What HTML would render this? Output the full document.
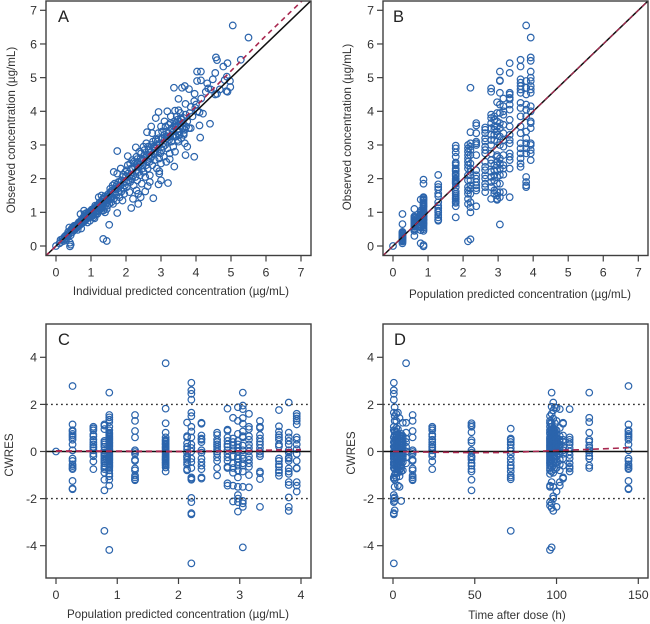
<!DOCTYPE html>
<html lang="en">
<head>
<meta charset="utf-8">
<title>Goodness-of-fit plots</title>
<style>
html,body{margin:0;padding:0;background:#fff;}
body{width:650px;height:624px;overflow:hidden;}
svg{display:block;filter:blur(0.3px);}
text{font-family:"Liberation Sans",Arial,sans-serif;fill:#333;}
.tick-label{font-size:12.4px;}
.axis-title{font-size:11.6px;}
.panel-letter{font-size:16.5px;fill:#222;}
</style>
</head>
<body>
<svg id="figure" width="650" height="624" viewBox="0 0 650 624" xmlns="http://www.w3.org/2000/svg"></svg>
<script>
// ---------- tick labels ----------
const concentrationTicks = [0, 1, 2, 3, 4, 5, 6, 7];
const predictionTicks = [0, 1, 2, 3, 4];
const cwresTicks = [-4, -2, 0, 2, 4];
const timeTicks = [0, 50, 100, 150];
const cwresLimits = [-2, 2];

// ---------- panel A: individual prediction vs observation pairs ----------
const panelAPairs = [
[5.05,6.55],[5.5,6.19],[4.57,5.6],[4.6,5.52],[4.9,5.43],[4.78,5.33],[5.28,5.53],[4.55,5.14],[4.03,5.18],[4.14,5.18],
[4.03,4.9],[4.14,4.92],[4.48,4.95],[4.88,5.03],[4.97,4.9],[4.82,4.93],[3.37,4.7],[3.6,4.7],[3.68,4.75],[3.8,4.66],
[3.96,4.52],[4.32,4.83],[4.35,4.68],[4.28,4.58],[4.42,4.65],[4.6,4.52],[4.55,4.5],[4.68,4.65],[4.87,4.6],[4.9,4.58],
[4.98,4.72],[3.5,4.37],[3.7,4.22],[4.0,4.2],[4.15,4.38],[3.85,4.13],[3.98,4.1],[4.04,4.0],[4.2,3.93],[4.1,3.97],
[4.4,3.63],[4.1,3.58],[4.12,3.22],[3.95,2.65],[3.7,2.7],[3.75,2.95],[3.68,3.05],[3.85,3.5],[3.65,3.3],[3.5,3.1],
[3.4,2.8],[3.25,2.58],[3.38,2.36],[3.2,1.87],[3.0,1.95],[2.93,1.83],[2.95,2.15],[2.95,2.22],[2.68,1.9],[2.78,1.42],
[2.55,1.62],[2.62,1.78],[2.15,1.13],[2.35,1.25],[1.75,0.98],[1.52,0.63],[1.35,0.21],[1.45,0.15],[1.75,2.82],[2.05,2.67],
[2.72,3.55],[2.6,3.38],[2.75,3.35],[2.85,3.8],[2.93,3.98],[3.18,4.0],[3.4,4.02],[3.5,4.03],[2.28,2.93],
[0,0],[0.1,0.08],[0.13,0.18],[0.18,0.2],[0.22,0.15],[0.25,0.28],[0.3,0.22],[0.33,0.3],[0.35,0.42],[0.38,0.55],
[0.42,0.04],[0.4,-0.01],[0.4,0.1],[0.42,0.32],[0.45,0.4],[0.48,0.56],[0.5,0.45],[0.52,0.6],[0.55,0.5],[0.58,0.62],
[0.6,0.55],[0.62,0.48],[0.65,0.7],[0.68,0.62],[0.7,0.95],[0.72,0.75],[0.72,0.52],[0.75,0.68],[0.78,0.85],[0.8,1.05],
[0.8,0.72],[0.82,0.95],[0.85,0.78],[0.88,0.9],[0.9,0.7],[0.92,1.0],[0.95,0.85],[0.97,0.75],[1.0,0.95],[1.02,1.08],
[1.05,0.9],[1.08,1.0],[1.1,0.82],[1.12,1.2],[1.15,1.05],[1.18,0.95],[1.2,1.15],[1.22,1.45],[1.25,1.3],[1.28,1.1],
[1.3,1.5],[1.32,1.2],[1.35,1.05],[1.35,1.42],[1.38,1.3],[1.4,1.0],[1.42,1.25],[1.45,1.1],[1.48,1.4],[1.5,1.55],
[1.52,1.25],[1.55,1.7],[1.55,1.45],[1.58,1.3],[1.6,1.65],[1.62,1.8],[1.65,1.4],[1.65,2.2],[1.68,1.55],[1.7,1.75],
[1.72,1.5],[1.75,2.15],[1.75,1.7],[1.78,1.9],[1.8,1.6],[1.82,1.45],[1.85,1.8],[1.85,2.3],[1.9,1.35],[1.9,2.05],
[1.92,1.7],[1.95,1.55],[1.98,2.2],[2.0,1.9],[2.02,1.75],[2.05,2.4],[2.08,2.05],[2.1,1.6],[2.12,1.9],[2.15,2.3],
[2.18,2.55],[2.2,1.4],[2.2,2.1],[2.22,1.8],[2.25,2.45],[2.28,2.2],[2.3,1.65],[2.3,2.65],[2.32,1.95],[2.35,1.55],
[2.35,2.35],[2.38,2.8],[2.4,2.1],[2.42,1.45],[2.42,2.6],[2.45,1.85],[2.48,2.4],[2.5,2.95],[2.5,2.2],[2.52,2.7],
[2.55,2.05],[2.58,3.05],[2.6,2.5],[2.62,2.3],[2.65,2.85],[2.68,2.1],[2.7,2.6],[2.72,3.0],[2.75,2.4],[2.78,2.75],
[2.8,2.9],[2.82,2.55],[2.85,3.15],[2.88,2.3],[2.9,2.8],[2.92,3.35],[2.95,2.6],[2.97,3.05],[3.0,2.45],[3.0,3.55],
[3.02,2.85],[3.05,3.2],[3.08,2.65],[3.1,3.7],[3.12,3.0],[3.15,2.5],[3.15,3.4],[3.18,2.9],[3.2,3.25],[3.22,3.6],
[3.25,2.75],[3.28,3.85],[3.3,3.1],[3.32,3.45],[3.35,2.95],[3.38,3.7],[3.4,3.3],[3.42,3.55],[3.45,3.85],[3.48,3.15],
[3.5,3.6],[3.52,3.4],[3.55,3.95],[3.58,3.2],[3.6,3.75],[3.62,3.5],[3.65,3.35],[3.7,3.9],[3.72,3.55],[3.75,3.7],
[3.8,3.5],[3.82,3.95],[3.9,3.85],[3.95,4.3],
[0.2,0.22],[0.28,0.3],[0.36,0.33],[0.44,0.5],[0.5,0.55],[0.56,0.58],[0.63,0.6],[0.66,0.6],[0.7,0.72],[0.74,0.8],
[0.76,0.72],[0.8,0.82],[0.83,0.75],[0.86,0.88],[0.88,0.82],[0.9,0.95],[0.93,0.88],[0.96,0.98],[0.98,0.9],[1.0,1.05],
[1.03,0.98],[1.06,1.1],[1.08,0.92],[1.1,1.08],[1.13,1.02],[1.16,1.15],[1.19,1.08],[1.22,1.22],[1.26,1.18],[1.3,1.32],
[1.34,1.3],[1.38,1.4],[1.44,1.38],[1.5,1.48],[1.56,1.58],[1.62,1.55],[1.68,1.7],[1.74,1.82],[1.8,1.78],[1.88,1.95],
[1.94,1.9],[2.0,2.08],[2.06,2.15],[2.14,2.12],[2.2,2.3],[2.26,2.34],[2.34,2.5],[2.4,2.42],[2.46,2.55],[2.54,2.62],
[2.6,2.72],[2.66,2.7],[2.72,2.8],[2.78,2.95],[2.84,2.92],[2.9,3.1],[2.96,3.0],[3.02,3.18],[3.06,3.05],[3.1,3.3],
[3.16,3.2],[3.22,3.35],[3.26,3.25],[3.3,3.5],[3.36,3.4],[3.42,3.65],[3.46,3.45],[3.52,3.7],[3.56,3.55],[3.65,3.8],
[0.15,0.12],[0.24,0.2],[0.3,0.33],[0.37,0.38],[0.46,0.46],[0.53,0.52],[0.6,0.62],[0.64,0.66],[0.68,0.72],[0.72,0.68],
[0.76,0.8],[0.8,0.78],[0.84,0.85],[0.87,0.98],[0.9,0.82],[0.94,0.92],[0.97,1.02],[1.0,0.87],[1.04,1.02],[1.07,0.85],
[1.1,1.13],[1.14,0.95],[1.17,1.2],[1.2,1.03],[1.24,1.12],[1.27,1.25],[1.3,1.05],[1.33,1.38],[1.37,1.15],[1.4,1.48],
[1.43,1.33],[1.47,1.2],[1.5,1.35],[1.53,1.5],[1.57,1.62],[1.6,1.45],[1.63,1.25],[1.67,1.85],[1.7,1.62],[1.73,1.35],
[1.78,1.72],[1.83,1.92],[1.87,1.62],[1.92,2.12],[1.97,1.8],[2.02,2.25],[2.07,1.95],[2.12,2.45],[2.17,2.0],[2.22,2.5],
[2.27,2.05],[2.32,2.58],[2.37,2.2],[2.43,2.75],[2.47,2.3],[2.53,2.85],[2.57,2.4],[2.63,2.95],[2.67,2.5],[2.73,2.65],
[2.77,3.1],[2.83,2.75],[2.87,3.0],[2.93,3.2],[2.98,2.75],[3.03,3.4],[3.07,2.95],[3.13,3.55],[3.17,3.1],[3.23,3.15],
[3.27,3.65],[3.33,3.25],[3.37,3.55],[3.43,3.25],[3.47,3.75],[3.53,3.3],[3.57,3.8],[3.63,3.65],[3.68,3.45]
];

// ---------- panels B, C: population prediction columns ----------
const populationPredictions = [0,0.27,0.61,0.79,0.87,1.29,1.79,2.14,2.21,2.375,2.63,2.8,2.89,2.97,3.05,3.15,3.33,3.64,3.8,3.93];
const panelBObserved = [
[0],
[0.95,0.65,0.42,0.38,0.33,0.3,0.27,0.23,0.2,0.17,0.13,0.08,0.4,0.36,0.25,0.15],
[1.1,0.88,0.82,0.78,0.73,0.68,0.62,0.57,0.52,0.45,0.3,0.85,0.75,0.7,0.65,0.6,0.5],
[1.38,0.95,0.9,0.85,0.8,0.75,0.7,0.62,0.55,0.47,0.08,1.05,1.0,0.92,0.82,0.72,0.65,0.58],
[1.97,1.85,1.45,1.42,1.38,1.3,1.22,1.15,1.1,1.05,1,0.95,0.9,0.85,0.8,0.75,0.7,0.65,0.6,0.55,0.45,0.03,-0.01,1.35,1.26,1.18,1.02,0.88,0.78,0.68,0.5],
[2.11,1.83,1.75,1.68,1.55,1.48,1.3,1.2,1.12,1.05,1,0.92,0.85,0.78,0.75],
[2.98,2.9,2.78,2.65,2.48,2.45,2.3,2.22,2.15,2.08,2,1.92,1.85,1.75,1.62,1.55,1.45,1.38,1.28,1.18,0.85,2.4,2.26,2.12,1.96,1.88,1.5,1.42,1.32],
[3.0,2.9,2.7,2.6,2.4,2.3,2.1,1.75,1.65,1.55,1.4,1.25,0.14,2.8,2.5,1.95],
[4.7,3.38,3.05,2.95,2.85,2.7,2.45,2.3,2.2,2.1,1.95,1.8,1.7,1.55,1.3,1.15,1.0,0.2],
[3.65,3.58,3.35,3.1,3.05,3.0,2.7,2.25,2.1,2,1.9,1.8,1.72,1.65,1.18],
[3.52,3.45,3.35,3.2,3.1,2.95,2.85,2.75,2.5,2.35,2.25,2.1,2,1.85,1.75,1.6],
[4.68,4.58,3.9,3.8,3.65,3.5,3.3,3.15,3.0,2.75,2.55,2.45,2.2,2.05,1.9,1.75,1.4],
[3.85,3.75,3.55,3.45,3.3,3.15,2.4,2.25,2.1,1.95,1.65,1.55],
[4.27,3.95,3.7,3.55,3.4,3.3,3.1,2.7,2.65,2.5,2.4,2.25,2.05,1.85,1.6,1.5,1.4,1.37],
[5.18,4.9,4.92,4.55,4.2,3.95,3.65,3.5,3.25,3.0,2.6,2.45,2.3,2.1,1.85,1.6,1.45,0.64],
[4.38,4.15,4.0,3.9,3.6,3.35,3.15,2.95,2.7,2.4,2.3,2.12,1.6],
[5.43,5.14,4.55,4.5,4.4,4.35,4.2,4.05,3.75,3.55,3.3,3.15,3.05,2.75,2.65,2.55,2.3,1.45],
[5.53,5.33,4.95,4.85,4.75,4.65,4.55,4.25,4.1,3.85,3.55,3.35,3.05,2.9,2.75,2.6,2.45,2.35],
[6.55,4.9,4.7,4.5,4.2,4.05,3.85,3.4,3.2,3.05,2.9,2.75,2.05,1.9,1.8,1.75],
[6.19,5.6,5.5,5.18,5.0,4.9,4.75,4.65,4.55,4.15,4,3.7,3.65,3.5,3.05,3.0,2.85,2.75,2.55]
];
const panelCCwres = [
[0],
[2.78,1.15,0.9,0.85,0.75,0.68,0.6,0.5,0.3,0.05,-0.3,-0.4,-0.55,-0.62,-0.7,-0.75,-1.25,-1.57,-1.6],
[1.05,0.98,0.9,0.72,0.65,0.5,0.4,0.3,0.2,0.15,0.05,-0.1,-0.2,-0.42,-0.75],
[1.15,1.1,0.95,0.45,0.38,0.3,0.05,-0.05,-0.2,-0.35,-0.5,-0.6,-0.75,-0.9,-1.2,-1.65,-3.37,0.2,-0.12,-0.28,-0.42,-0.68],
[2.5,1.55,1.45,1.35,1.25,1.05,0.9,0.8,0.7,0.6,0.5,0.4,0.3,0.2,0.1,0,-0.1,-0.2,-0.3,-0.4,-0.5,-0.6,-0.7,-0.8,-0.95,-1.05,-1.2,-1.45,-4.18,0.75,0.65,0.55,0.45,0.35,0.25,0.15,0.05,-0.05,-0.15,-0.25,-0.35,-0.45,-0.55,-0.65],
[1.55,1.3,0.87,0.6,0.05,-0.02,-0.1,-0.35,-0.4,-0.72,-0.8,-1.02,-1.1,-1.18,-1.22],
[3.75,1.82,1.2,0.8,0.6,0.5,0.42,0.35,0.28,0.2,0.12,0.05,-0.05,-0.12,-0.2,-0.3,-0.4,-0.5,-0.6,-0.68,-0.85,0.46,0.32,0.16,0,-0.25,-0.35,-0.45,-0.55],
[1.23,0.65,0.6,0.35,0.2,0.1,-0.05,-0.2,-0.25,-0.35,-0.45,-0.55,-0.75,-0.8],
[2.92,2.6,2.45,2.2,1.65,1.5,1.05,0.85,0.6,0.3,0.15,0,-0.3,-0.45,-0.7,-1.1,-1.15,-1.2,-1.97,-2.15,-2.62,-2.67,-4.75],
[1.22,1.18,0.68,0.55,0.5,0.4,0.05,-0.05,-0.3,-0.45,-0.6,-0.75,-1.1,-1.15],
[0.8,0.7,0.5,0.4,0.3,0.2,0.1,0,-0.1,-0.25,-0.4,-0.7,-1.02],
[1.82,0.93,0.88,0.6,0.45,0.3,0.2,0.05,-0.1,-0.25,-0.4,-0.65,-0.7,-1.35,-1.45],
[1.43,0.55,0.4,0.25,0.05,-0.2,-0.5,-0.7,-0.9,-1.45,-2.12],
[1.88,1.3,0.75,0.45,0.3,0.15,0,-0.2,-0.3,-0.45,-0.6,-0.8,-1.1,-1.5,-1.85,-2.0,-2.15,-2.55],
[2.5,1.95,1.8,1.42,1.18,0.85,0.65,0.6,0.25,0.05,-0.15,-0.3,-0.5,-0.6,-0.85,-1.5,-2.1,-2.2,-2.35,-4.07],
[1.6,1.05,0.95,0.65,0.5,0.3,0.15,0,-0.2,-0.35,-0.5,-0.65,-1,-1.52],
[1.3,1.05,1.0,0.7,0.55,0.42,0.3,0.15,0,-0.1,-0.2,-0.85,-0.92,-1.17,-2.35],
[1.76,1.07,0.85,0.7,0.6,0.5,0.3,0.22,-0.3,-0.4,-0.55,-0.65,-0.8,-0.9,-1.03],
[2.08,0.8,0.6,0.45,0.3,0.05,-0.05,-0.25,-0.3,-0.4,-0.72,-0.85,-0.95,-1.3,-1.42,-1.95,-2.35,-2.52],
[1.6,1.5,1.4,1.3,1.15,0.6,0.5,0.3,0.1,-0.1,-0.4,-0.7,-0.72,-1.3,-1.45,-1.7]
];

// ---------- panel D: time after dose columns ----------
const timesAfterDose = [0.5,1,2,3,4,5,6,8,12,24,48,72,96,97,98,99,100,102,104,108,120,144];
const panelDCwres = [
[2.92,2.6,2.45,2.2,1.65,1.05,0.6,0.2,-0.1,-0.3,-0.45,-0.7,-1.1,-1.15,-1.85,-2.0,-2.15,-2.62,-2.67,-4.75,0.9,0.4,0,-0.2,-0.55],
[1.88,1.5,1.3,0.85,0.5,0.35,0.1,-0.2,-0.5,-0.75,-1.2,-1.5,-1.95,-2.1,-2.5,0.7,0.2,-0.05,-0.35,-0.6,-1.0],
[1.6,1.3,1.0,0.7,0.5,0.3,0.1,-0.1,-0.35,-0.6,-0.9,-1.1,0.85,0.6,0.4,0.2,0,-0.2,-0.45,-0.75],
[1.65,0.95,0.6,0.4,0.2,0,-0.2,-0.4,-0.6,-0.9,-1.45,0.75,0.5,0.3,0.1,-0.1,-0.3,-0.5,-0.75],
[1.42,0.7,0.5,0.3,0.1,-0.1,-0.3,-0.5,-0.8,-1.05,-1.5,0.6,0.4,0.2,0,-0.2,-0.4,-0.65],
[0.75,0.55,0.35,0.15,-0.1,-0.3,-0.6,-0.85,-2.1,0.65,0.45,0.25,0.05,-0.2,-0.45,-0.7],
[1.22,0.65,0.45,0.25,0.05,-0.2,-0.45,-0.8,0.55,0.35,0.15,-0.1,-0.3],
[3.75,1.22,0.8,0.55,0.4,0.2,0,-0.25,-0.5],
[1.55,1.3,0.87,0.6,0.05,-0.02,-0.1,-0.35,-0.4,-0.72,-0.8,-1.02,-1.1,-1.18,-1.22],
[1.05,0.98,0.9,0.72,0.65,0.5,0.4,0.3,0.2,0.15,0.05,-0.1,-0.2,-0.42,-0.75],
[1.2,1.12,1.05,0.82,0.48,0.38,0.05,-0.05,-0.2,-0.25,-0.35,-0.5,-0.6,-0.75,-0.85,-1.2,-1.65],
[0.97,0.55,0.5,0.4,0.3,0.15,0.02,-0.12,-0.3,-0.45,-0.6,-0.7,-0.85,-1.02,-1.1,-1.18,-3.37],
[1.5,1.3,1.05,0.9,0.75,0.6,0.45,0.3,0.15,0,-0.15,-0.3,-0.45,-0.6,-0.8,-0.95,-1.45,-1.5,-2.15,-2.3,-4.18,1.2,0.82,0.52,0.38,0.22,0.08,-0.08,-0.22,-0.38,-0.52,-0.7],
[2.5,1.9,1.6,1.2,1.05,0.85,0.7,0.55,0.4,0.25,0.1,-0.05,-0.2,-0.35,-0.5,-0.65,-0.85,-1.3,-2.2,-2.4,-4.07,0.95,0.78,0.62,0.48,0.32,0.18],
[2.08,1.75,1.4,1.0,0.8,0.65,0.5,0.35,0.2,0.05,-0.1,-0.25,-0.4,-0.6,-0.9,-1.5,-1.9,-2.0,-2.52,0.9,0.72,0.58,0.42,0.28,0.12,-0.02],
[1.88,1.2,0.95,0.7,0.55,0.4,0.25,0.1,-0.1,-0.3,-0.5,-0.75,0.85,0.62,0.48,0.32,0.18,0],
[1.85,1.3,0.9,0.6,0.45,0.3,0.15,0,-0.2,-0.45,-0.7,-1.7,-2.35,0.75,0.52,0.38,0.22,0.08],
[1.8,1.0,0.65,0.5,0.3,0.1,-0.1,-0.35,-0.55,-0.8,-1.3,-1.45,0.4,0.2,0],
[1.22,1.18,0.68,0.5,0.4,0.2,0.05,-0.1,-0.3,-0.6,-1.1,-1.15],
[1.8,0.6,0.5,0.4,0.3,0.15,0,-0.15,-0.3,-0.5,-0.65,-0.72,-0.85],
[2.5,1.43,1.25,0.8,0.5,0.42,0.25,0.15,0.05,-0.05,-0.2,-0.3,-0.6,-0.7],
[2.78,1.15,0.9,0.85,0.75,0.68,0.6,0.5,0.3,0.05,-0.3,-0.4,-0.55,-0.62,-0.7,-0.75,-1.25,-1.57,-1.6]
];

// ---------- trend (dashed) series ----------
const panelATrendX = [-0.3,0,1,2,3,4,5,6,7.05];
const panelATrendY = [-0.3,0,1.0,2.03,3.08,4.15,5.2,6.25,7.3];
const panelBTrendX = [-0.3,1,2,3,4,5,6,7.3];
const panelBTrendY = [-0.3,1,2,3,4,5,6,7.3];
const panelCTrendX = [0,1,2,3,3.5,4];
const panelCTrendY = [0.02,0.01,0,0.02,0.05,0.07];
const panelDTrendX = [0,25,50,72,96,120,144];
const panelDTrendY = [0,-0.03,-0.05,-0.04,0.03,0.09,0.16];

const SVG_NS = 'http://www.w3.org/2000/svg';
const figure = document.getElementById('figure');

function add(parent, tag, attrs, text) {
  const el = document.createElementNS(SVG_NS, tag);
  for (const k in attrs) el.setAttribute(k, attrs[k]);
  if (text !== undefined) el.textContent = text;
  parent.appendChild(el);
  return el;
}

function linearAxis(domainStart, domainEnd, pxStart, pxEnd) {
  return function (v) {
    return pxStart + (v - domainStart) * (pxEnd - pxStart) / (domainEnd - domainStart);
  };
}

function drawPanel(cfg) {
  const g = add(figure, 'g', {});
  
  

  const clipId = 'clip-' + cfg.key;
  const defs = add(g, 'defs', {});
  const clip = add(defs, 'clipPath', {id: clipId});
  add(clip, 'rect', {x: cfg.left, y: cfg.top, width: cfg.right - cfg.left, height: cfg.bottom - cfg.top});

  const plot = add(g, 'g', {'clip-path': 'url(#' + clipId + ')'});
  
  

  // observation markers
  cfg.points.forEach(function (p) {
    const c = add(plot, 'circle', {
      cx: cfg.x(p[0]).toFixed(2), cy: cfg.y(p[1]).toFixed(2), r: 3.3,
      fill: 'none', stroke: '#2b64ac', 'stroke-width': 1.2
    });
    
    
  });

  // dotted limit lines
  if (cfg.limits) {
    cfg.limits.forEach(function (v) {
      const l = add(plot, 'line', {x1: cfg.left, x2: cfg.right, y1: cfg.y(v), y2: cfg.y(v),
        stroke: '#333', 'stroke-width': 1.4, 'stroke-dasharray': '1.8 3.2'});
      
      
    });
  }

  // reference line
  let refLine;
  if (cfg.identity) {
    refLine = add(plot, 'line', {x1: cfg.x(-1), y1: cfg.y(-1), x2: cfg.x(8), y2: cfg.y(8), stroke: '#111', 'stroke-width': 1.5});
    
  } else {
    refLine = add(plot, 'line', {x1: cfg.left, y1: cfg.y(0), x2: cfg.right, y2: cfg.y(0), stroke: '#111', 'stroke-width': 1.5});
    
  }
  

  // trend line
  const trendPts = cfg.trendX.map(function (v, i) {
    return cfg.x(v).toFixed(2) + ',' + cfg.y(cfg.trendY[i]).toFixed(2);
  }).join(' ');
  const trend = add(plot, 'polyline', {points: trendPts, fill: 'none', stroke: '#a8274f',
    'stroke-width': cfg.trendWidth, 'stroke-dasharray': cfg.trendDash});
  
  

  // frame
  const frame = add(g, 'rect', {x: cfg.left, y: cfg.top, width: cfg.right - cfg.left, height: cfg.bottom - cfg.top,
    fill: 'none', stroke: '#3f3f3f', 'stroke-width': 1.4});
  
  

  // x axis
  cfg.xTicks.forEach(function (v) {
    const tx = cfg.x(v);
    const t = add(g, 'line', {x1: tx, x2: tx, y1: cfg.bottom, y2: cfg.bottom + 6, stroke: '#3f3f3f', 'stroke-width': 1.2});
    
    
    const lab = add(g, 'text', {x: tx, y: cfg.bottom + 21, 'text-anchor': 'middle', 'class': 'tick-label'}, String(v));
    
    
  });

  // y axis
  cfg.yTicks.forEach(function (v) {
    const ty = cfg.y(v);
    const t = add(g, 'line', {x1: cfg.left - 6, x2: cfg.left, y1: ty, y2: ty, stroke: '#3f3f3f', 'stroke-width': 1.2});
    
    
    const lab = add(g, 'text', {x: cfg.left - 9, y: ty + 4.4, 'text-anchor': 'end', 'class': 'tick-label'}, String(v));
    
    
  });

  // titles
  const xt = add(g, 'text', {x: cfg.xTitleX, y: cfg.xTitleY, 'text-anchor': 'middle', 'class': 'axis-title'}, cfg.xTitle);
  
  
  const yt = add(g, 'text', {transform: 'translate(' + cfg.yTitleX + ',' + cfg.yTitleY + ') rotate(-90)', 'text-anchor': 'middle', 'class': 'axis-title'}, cfg.yTitle);
  
  
  const letter = add(g, 'text', {x: cfg.letterX, y: cfg.letterY, 'class': 'panel-letter'}, cfg.key.toUpperCase());
  
  
}

function flattenColumns(xs, cols) {
  const out = [];
  xs.forEach(function (x, i) {
    cols[i].forEach(function (y) { out.push([x, y]); });
  });
  return out;
}

const concYTop = linearAxis(0, 7, 246, 10.3);
const cwresY = linearAxis(-4, 4, 545.7, 357.3);

drawPanel({key:'a', left:46, right:311, top:1, bottom:255.5,
  x: linearAxis(0, 7, 56, 301), y: concYTop, points: panelAPairs,
  xTicks: concentrationTicks, yTicks: concentrationTicks, identity:true,
  trendX: panelATrendX, trendY: panelATrendY, trendWidth:1.6, trendDash:'5 4',
  xTitle:'Individual predicted concentration (µg/mL)', xTitleX:181, xTitleY:295,
  yTitle:'Observed concentration (µg/mL)', yTitleX:15, yTitleY:130, letterX:58, letterY:22});

drawPanel({key:'b', left:383, right:648, top:1, bottom:255.5,
  x: linearAxis(0, 7, 393, 638.3), y: concYTop,
  points: flattenColumns(populationPredictions, panelBObserved),
  xTicks: concentrationTicks, yTicks: concentrationTicks, identity:true,
  trendX: panelBTrendX, trendY: panelBTrendY, trendWidth:1.2, trendDash:'5 4',
  xTitle:'Population predicted concentration (µg/mL)', xTitleX:520, xTitleY:298,
  yTitle:'Observed concentration (µg/mL)', yTitleX:351, yTitleY:127, letterX:393, letterY:22});

drawPanel({key:'c', left:46, right:311, top:324, bottom:578,
  x: linearAxis(0, 4, 56, 301), y: cwresY,
  points: flattenColumns(populationPredictions, panelCCwres),
  xTicks: predictionTicks, yTicks: cwresTicks, limits: cwresLimits, identity:false,
  trendX: panelCTrendX, trendY: panelCTrendY, trendWidth:2, trendDash:'6 4',
  xTitle:'Population predicted concentration (µg/mL)', xTitleX:178, xTitleY:618,
  yTitle:'CWRES', yTitleX:13, yTitleY:455, letterX:58, letterY:345});

drawPanel({key:'d', left:383, right:648, top:324, bottom:578,
  x: linearAxis(0, 150, 393, 638.3), y: cwresY,
  points: flattenColumns(timesAfterDose, panelDCwres),
  xTicks: timeTicks, yTicks: cwresTicks, limits: cwresLimits, identity:false,
  trendX: panelDTrendX, trendY: panelDTrendY, trendWidth:1.6, trendDash:'6 4',
  xTitle:'Time after dose (h)', xTitleX:517, xTitleY:619,
  yTitle:'CWRES', yTitleX:355, yTitleY:453, letterX:394, letterY:345});
</script>
</body>
</html>
